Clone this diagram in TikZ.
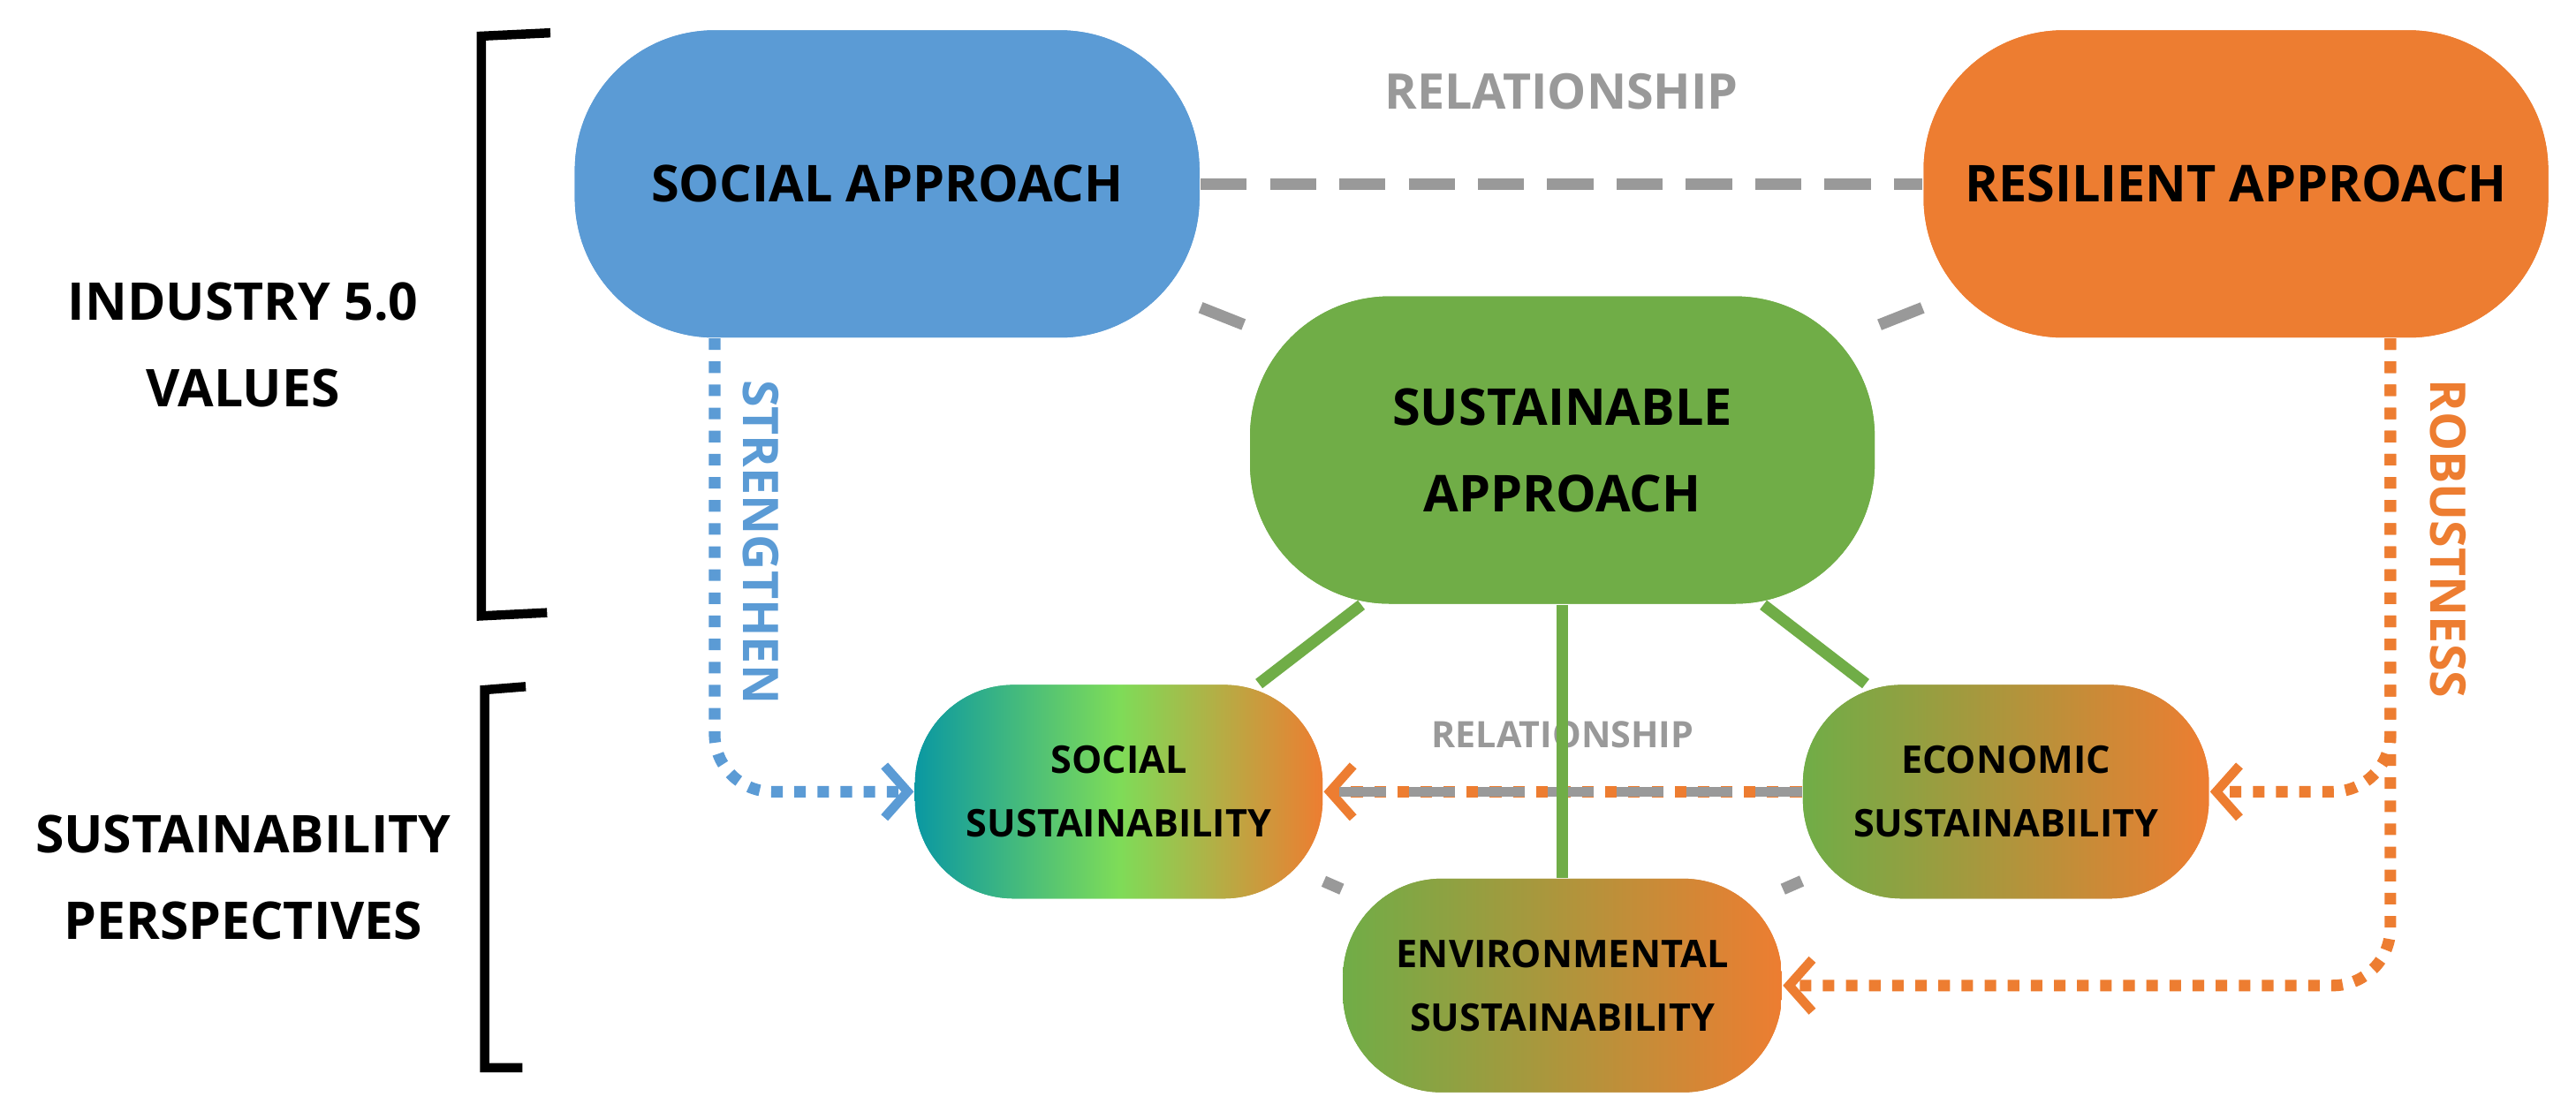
\documentclass[tikz,border=0pt]{standalone}
\usepackage{fontspec}
\setmainfont{Open Sans}
\usetikzlibrary{arrows.meta,positioning}
\definecolor{socblue}{HTML}{5B9BD5}
\definecolor{resorange}{HTML}{ED7D31}
\definecolor{susgreen}{HTML}{70AD47}
\definecolor{relgray}{HTML}{999999}
\definecolor{tealc}{HTML}{0A98A2}
\definecolor{limec}{HTML}{7EDC58}
\begin{document}
\begin{tikzpicture}[x=0.01cm,y=-0.01cm,
big/.style={rounded corners=0.85cm, minimum width=3.8cm, minimum height=1.87cm, align=center, font=\fontsize{8.8}{15}\selectfont\bfseries, inner sep=0pt},
small/.style={rounded corners=0.6cm, minimum height=1.3cm, align=center, font=\fontsize{6.6}{11}\selectfont\bfseries, inner sep=0pt},
rel/.style={draw=relgray, line width=2pt, dash pattern=on 8pt off 4pt},
link/.style={draw=susgreen, line width=2pt},
dots/.style={line width=2pt, dash pattern=on 2pt off 2pt, rounded corners=0.35cm, -{Straight Barb[length=4pt,width=9pt,line width=1.6pt]}},
brack/.style={draw, line width=1.6pt},
side/.style={font=\fontsize{9}{15}\selectfont\bfseries, align=center}
]
\useasboundingbox[fill=white] (0,0) rectangle (1568,677);

% values and perspectives
\node[big, fill=socblue] (soc) at (540,112) {SOCIAL APPROACH};
\node[big, fill=resorange] (res) at (1361,112) {RESILIENT APPROACH};
\node[big, fill=susgreen] (sus) at (951,274) {SUSTAINABLE\\APPROACH};
\node[small, minimum width=2.48cm, left color=tealc, right color=resorange, middle color=limec] (socs) at (681,482) {SOCIAL\\SUSTAINABILITY};
\node[small, minimum width=2.47cm, left color=susgreen, right color=resorange] (eco) at (1221,482) {ECONOMIC\\SUSTAINABILITY};
\node[small, minimum width=2.67cm, left color=susgreen, right color=resorange] (env) at (951,600) {ENVIRONMENTAL\\SUSTAINABILITY};

% side labels
\node[side] (vals) at (148,210) {INDUSTRY 5.0\\VALUES};
\node[side] (persp) at (148,534) {SUSTAINABILITY\\PERSPECTIVES};
\draw[brack] (335,20) -- (293,22) -- (293,375) -- (333,373);
\draw[brack] (320,418) -- (295,420) -- (295,650) -- (318,650);

% relationships
\begin{scope}[on background layer/.style={}]
\path[rel] (soc) -- (sus);
\path[rel] (res) -- (sus);
\path[rel] (socs) -- (env);
\path[rel] (eco) -- (env);
\end{scope}
\path[rel] (soc.east) -- node[above=0.3cm, text=relgray, font=\fontsize{8.5}{10}\selectfont\bfseries] (relA) {RELATIONSHIP} (res.east -| res.west);
\draw[dots, resorange] (eco.west) -- (socs.east);
\path[rel, line width=1.6pt] (eco.west) -- node[above=0.12cm, text=relgray, font=\fontsize{6.3}{8}\selectfont\bfseries] (relB) {RELATIONSHIP} (socs.east);
\draw[link] (sus) -- (socs);
\draw[link] (sus) -- (eco);
\draw[link] (sus.south) -- (env.north);
\node[small, minimum width=2.48cm, left color=tealc, right color=resorange, middle color=limec] at (socs) {SOCIAL\\SUSTAINABILITY};
\node[small, minimum width=2.47cm, left color=susgreen, right color=resorange] at (eco) {ECONOMIC\\SUSTAINABILITY};
\node[small, minimum width=2.67cm, left color=susgreen, right color=resorange] at (env) {ENVIRONMENTAL\\SUSTAINABILITY};
\node[big, fill=socblue] at (soc) {SOCIAL APPROACH};
\node[big, fill=resorange] at (res) {RESILIENT APPROACH};
\node[big, fill=susgreen] at (sus) {SUSTAINABLE\\APPROACH};

% influences
\coordinate (s1) at (435,206);
\coordinate (r1) at (1455,206);
\draw[dots, socblue] (s1) |- (socs.west);
\draw[dots, resorange] (r1) |- (eco.east);
\draw[dots, resorange] (r1) |- (env.east);
\node[rotate=-90, text=socblue, font=\fontsize{8.5}{10}\selectfont\bfseries] (str) at (463,330) {STRENGTHEN};
\node[rotate=-90, text=resorange, font=\fontsize{8.5}{10}\selectfont\bfseries] (rob) at (1490,328) {ROBUSTNESS};
\end{tikzpicture}
\end{document}
